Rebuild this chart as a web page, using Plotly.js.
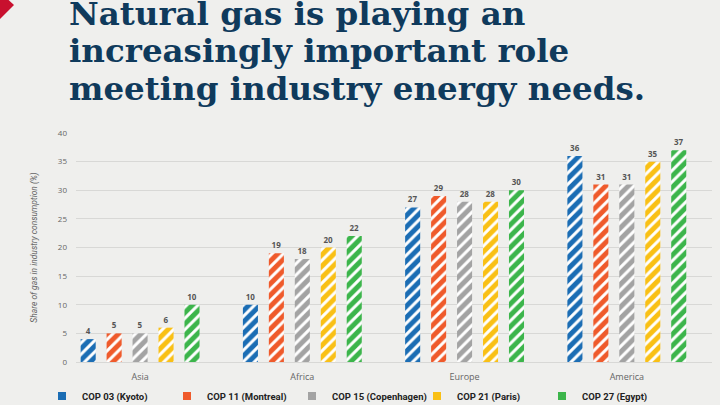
<!DOCTYPE html>
<html>
<head>
<meta charset="utf-8">
<script src="https://cdn.plot.ly/plotly-3.0.1.min.js"></script>
<style>
  html, body { margin: 0; padding: 0; background: #efefed; }
  #chart { width: 720px; height: 405px; }
</style>
</head>
<body>
<div id="chart"></div>
<script>
// Share of natural gas in industry energy consumption (%), by region and COP year
const regions = ['Asia', 'Africa', 'Europe', 'America'];
const seriesNames = ['COP 03 (Kyoto)', 'COP 11 (Montreal)', 'COP 15 (Copenhagen)', 'COP 21 (Paris)', 'COP 27 (Egypt)'];
const cop03 = [4, 10, 27, 36];
const cop11 = [5, 19, 29, 31];
const cop15 = [5, 18, 28, 31];
const cop21 = [6, 20, 28, 35];
const cop27 = [10, 22, 30, 37];
const colors = ['#1b6db4', '#ef5a2b', '#a3a3a3', '#f9c015', '#3cb54b'];

const seriesValues = [cop03, cop11, cop15, cop21, cop27];

// Plot-area geometry in pixels, used to place the headline and marker shape
const W = 720, H = 405;
const M = { l: 76, r: 8, t: 133, b: 43, autoexpand: false };
const pw = W - M.l - M.r, ph = H - M.t - M.b;
const px = x => (x - M.l) / pw;
const py = y => (H - M.b - y) / ph;

const traces = [];
seriesValues.forEach((vals, i) => {
  traces.push({
    type: 'bar',
    x: regions,
    y: vals,
    name: seriesNames[i],
    showlegend: false,
    marker: {
      color: colors[i],
      line: { width: 0 },
      pattern: { shape: '/', fgcolor: '#ffffff', bgcolor: colors[i], size: 8, solidity: 0.38 }
    },
    texttemplate: '%{y}',
    textposition: 'outside',
    constraintext: 'none',
    cliponaxis: false,
    textfont: { family: 'Open Sans, sans-serif', size: 8, color: '#555555', weight: 700 },
    hoverinfo: 'skip'
  });
});
// Solid swatches for the legend
seriesNames.forEach((name, i) => {
  traces.push({
    type: 'scatter',
    mode: 'markers',
    x: [null],
    y: [null],
    name: name,
    marker: { symbol: 'square', size: 8, color: colors[i] },
    showlegend: true
  });
});

const headline = ['Natural gas is playing an', 'increasingly important role', 'meeting industry energy needs.'];
const lineMid = [13, 50.5, 88];

const annotations = headline.map((t, i) => ({
  text: t,
  xref: 'paper', yref: 'paper',
  x: px(67), y: py(lineMid[i]),
  xanchor: 'left', yanchor: 'middle',
  showarrow: false,
  font: { family: 'DejaVu Serif, serif', size: 32.5, color: '#0f3a5c', weight: 700 }
}));

const layout = {
  width: W, height: H,
  margin: M,
  paper_bgcolor: '#efefed',
  plot_bgcolor: 'rgba(0,0,0,0)',
  barmode: 'group',
  bargap: 0.2,
  bargroupgap: 0.42,
  font: { family: 'Open Sans, sans-serif', color: '#666666' },
  xaxis: {
    type: 'category',
    range: [-0.395, 3.525],
    showgrid: false,
    zeroline: false,
    showline: false,
    ticks: '',
    tickfont: { family: 'Open Sans, sans-serif', size: 9, color: '#666666' },
    ticklabelstandoff: 8
  },
  yaxis: {
    range: [0, 40],
    dtick: 5,
    showgrid: true,
    gridcolor: '#d8d8d6',
    gridwidth: 1,
    zeroline: true,
    zerolinecolor: '#d8d8d6',
    zerolinewidth: 1,
    showline: false,
    ticks: '',
    tickfont: { family: 'Open Sans, sans-serif', size: 8, color: '#666666' },
    ticklabelstandoff: 8,
    title: {
      text: 'Share of gas in industry consumption (%)',
      font: { family: 'Liberation Sans Narrow, Roboto, sans-serif', size: 8.5, color: '#666666', style: 'italic' },
      standoff: 18
    }
  },
  legend: {
    orientation: 'h',
    x: px(42), y: py(396),
    xanchor: 'left', yanchor: 'middle',
    entrywidth: 80,
    entrywidthmode: 'pixels',
    font: { family: 'Liberation Sans Narrow, Roboto, sans-serif', size: 9.5, color: '#222222', weight: 700 },
    bgcolor: 'rgba(0,0,0,0)',
    itemclick: false
  },
  annotations: annotations,
  shapes: [{
    type: 'path',
    xref: 'paper', yref: 'paper',
    path: 'M ' + px(0) + ' ' + py(-8) + ' L ' + px(14) + ' ' + py(5) + ' L ' + px(0) + ' ' + py(19) + ' Z',
    fillcolor: '#c8102e',
    line: { width: 0 }
  }]
};

Plotly.newPlot('chart', traces, layout, { displayModeBar: false, staticPlot: true });
</script>
</body>
</html>
